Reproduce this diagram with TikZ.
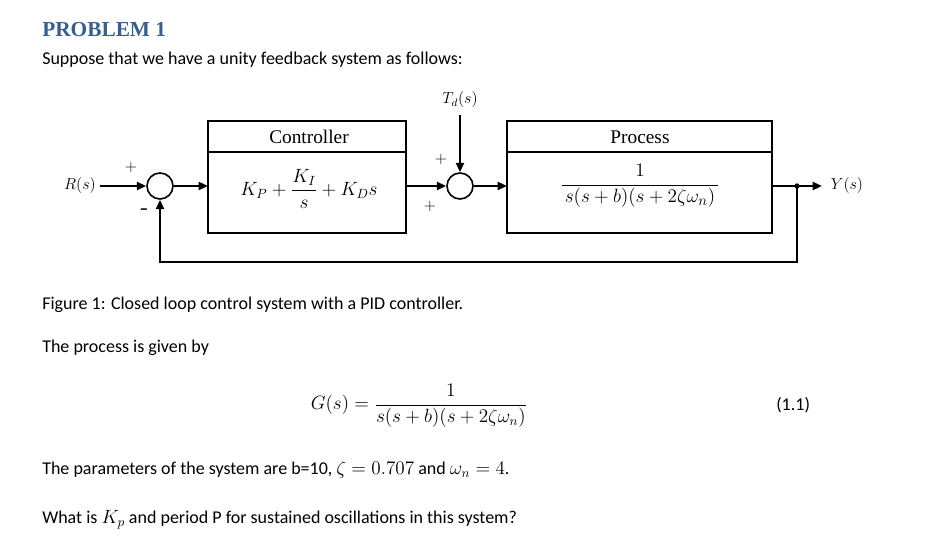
\documentclass[tikz,border=0pt]{standalone}
\usepackage{fontspec}
\setmainfont{Carlito}
\newfontfamily\tms{Liberation Serif}
\usepackage{amsmath}
\usetikzlibrary{arrows.meta}
\definecolor{ttl}{RGB}{54,95,145}
\begin{document}
\begin{tikzpicture}[x=0.75pt,y=-0.75pt,
  sig/.style={line width=1.6pt,-{Triangle[length=7pt,width=6pt]}},
  blk/.style={draw,line width=1.2pt},
  sum/.style={draw,line width=1.2pt,circle,minimum size=19.5pt,inner sep=0pt},
  lab/.style={font=\fontsize{12}{14}\selectfont},
  txt/.style={anchor=west,font=\fontsize{13.5}{16}\selectfont,inner sep=0pt}]
\useasboundingbox (0,0) rectangle (926,552);
\node[anchor=west,inner sep=0pt,text=ttl,font=\tms\bfseries\fontsize{16}{18}\selectfont] (title) at (42,30) {PROBLEM 1};
\node[txt] (t1) at (42,60) {Suppose that we have a unity feedback system as follows:};
% blocks
\draw[blk] (208,121) rectangle (406,233);
\draw[blk] (208,152) -- (406,152);
\draw[blk] (507,121) rectangle (772,233);
\draw[blk] (507,152) -- (772,152);
\node[font=\tms\fontsize{14.5}{16}\selectfont] (ch) at (309,137) {Controller};
\node[font=\tms\fontsize{14.5}{16}\selectfont] (ph) at (640,137) {Process};
\coordinate (cin) at (208,186); \coordinate (cout) at (406,186);
\coordinate (pin) at (507,186); \coordinate (pout) at (772,186);
\node[font=\fontsize{14}{16}\selectfont] (cb) at (309,189) {$K_P+\dfrac{K_I}{s}+K_D s$};
\node[font=\fontsize{15}{17}\selectfont] (pb) at (640,186) {$\dfrac{1}{\,s(s+b)(s+2\zeta\omega_n)\,}$};
\node[sum] (s1) at (160,186) {};
\node[sum] (s2) at (460,186) {};
\node[lab] (R) at (80,186) {$R(s)$};
\node[lab] (Y) at (847,186) {$Y(s)$};
\node[lab] (Td) at (460,100) {$T_d(s)$};
\coordinate (tdt) at (460,115);
\coordinate (br) at (797,186);
\coordinate (yend) at (822,186);
\coordinate (rst) at (100,186);
\draw[sig] (rst) -- (s1);
\draw[sig] (s1) -- (cin);
\draw[sig] (cout) -- (s2);
\draw[sig] (tdt) -- (s2);
\draw[sig] (s2) -- (pin);
\draw[sig] (pout) -- (yend);
\fill (br) circle (2pt);
\draw[sig] (br) -- (797,262) -- (160,262) -- (s1);
\node[font=\fontsize{12}{12}\selectfont] (p1) at (131,168) {$+$};
\node[font=\bfseries\fontsize{13}{13}\selectfont] (m1) at (144,212) {--};
\node[font=\fontsize{12}{12}\selectfont] (p2) at (441,160) {$+$};
\node[font=\fontsize{12}{12}\selectfont] (p3) at (430,207) {$+$};
% text
\node[txt] (t2) at (42,305) {Figure 1: Closed loop control system with a PID controller.};
\node[txt] (t3) at (42,348) {The process is given by};
\node (eq) at (419,406) {\fontsize{14}{16}\selectfont$G(s)=\dfrac{1}{s(s+b)(s+2\zeta\omega_n)}$};
\node[txt] (en) at (776,405) {(1.1)};
\node[txt] (t4) at (42,470) {The parameters of the system are b=10, {\fontsize{14}{16}\selectfont$\zeta=0.707$} and {\fontsize{14}{16}\selectfont$\omega_n=4$}.};
\node[txt] (t5) at (42,520) {What is {\fontsize{14}{16}\selectfont$K_p$} and period P for sustained oscillations in this system?};
\end{tikzpicture}
\end{document}
